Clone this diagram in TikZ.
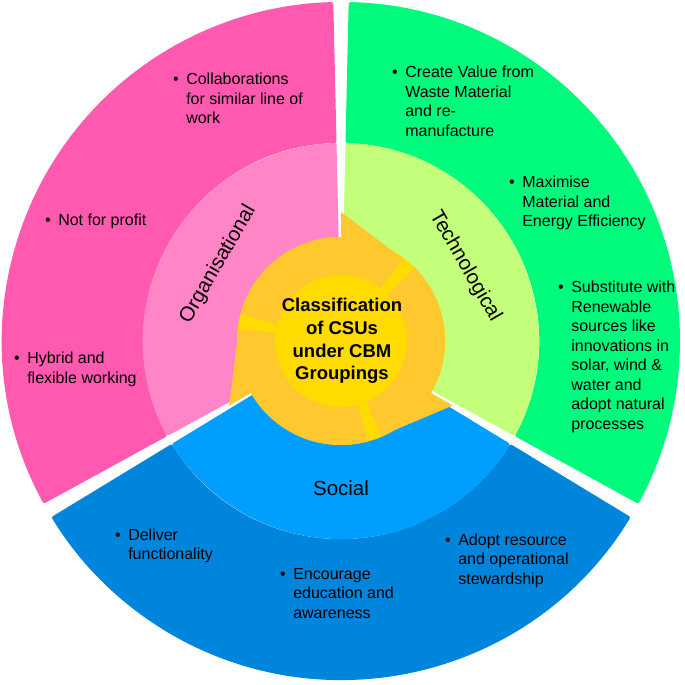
\documentclass[tikz,border=0pt]{standalone}
\usepackage{fontspec}
\setmainfont{Liberation Sans}
\usepackage{tikz}
\definecolor{pinkdark}{HTML}{FF5AAF}
\definecolor{pinklight}{HTML}{FF85C6}
\definecolor{greendark}{HTML}{00FA7C}
\definecolor{greenlight}{HTML}{C3FF7B}
\definecolor{bluedark}{HTML}{0085DC}
\definecolor{bluelight}{HTML}{009EFF}
\definecolor{cyclefill}{HTML}{FFDB00}
\definecolor{arrowfill}{HTML}{FFC82F}
\newcommand{\bitem}[1]{\begin{tabular}[t]{@{}l@{\hspace{7.5pt}}l@{}}\textbullet & \begin{tabular}[t]{@{}l@{}}#1\end{tabular}\end{tabular}}

\begin{document}
\begin{tikzpicture}[x=1pt, y=1pt, rounded corners=2pt,
    point/.style={anchor=base west, inner sep=0pt, font=\fontsize{16}{19.5}\selectfont},
    group/.style={inner sep=0pt, font=\fontsize{20.5}{24}\selectfont}]
            \useasboundingbox (-341,-344) rectangle (344,341);
            % outer sectors
            \fill[pinkdark] (91.3:198) arc[start angle=91.3, end angle=208.7, radius=198] -- (208.7:339) arc[start angle=208.7, end angle=91.3, radius=339] -- cycle;
            \fill[greendark] (-28.7:198) arc[start angle=-28.7, end angle=88.7, radius=198] -- (88.7:339) arc[start angle=88.7, end angle=-28.7, radius=339] -- cycle;
            \fill[bluedark] (211.3:198) arc[start angle=211.3, end angle=328.7, radius=198] -- (328.7:339) arc[start angle=328.7, end angle=211.3, radius=339] -- cycle;
            % inner sectors
            \fill[pinklight] (91.3:100) arc[start angle=91.3, end angle=208.7, radius=100] -- (208.7:198) arc[start angle=208.7, end angle=91.3, radius=198] -- cycle;
            \fill[greenlight] (-28.7:100) arc[start angle=-28.7, end angle=88.7, radius=100] -- (88.7:198) arc[start angle=88.7, end angle=-28.7, radius=198] -- cycle;
            \fill[bluelight] (211.3:100) arc[start angle=211.3, end angle=328.7, radius=100] -- (328.7:198) arc[start angle=328.7, end angle=211.3, radius=198] -- cycle;
            % cycle in the middle
            \fill[cyclefill] (0,0) circle[radius=104];
            \begin{scope}[sharp corners, arrowfill]
              \fill (90:66) arc[start angle=90, end angle=165, radius=66] -- (165:104) arc[start angle=165, end angle=90, radius=104] -- cycle;
              \fill (90:62) -- (90:129) -- (53:103) -- (53:66) arc[start angle=53, end angle=90, radius=66] -- cycle;
              \fill (210:66) arc[start angle=210, end angle=285, radius=66] -- (285:104) arc[start angle=285, end angle=210, radius=104] -- cycle;
              \fill (210:62) -- (210:129) -- (173:103) -- (173:66) arc[start angle=173, end angle=210, radius=66] -- cycle;
              \fill (-30:66) arc[start angle=-30, end angle=45, radius=66] -- (45:104) arc[start angle=45, end angle=-30, radius=104] -- cycle;
              \fill (-30:62) -- (-30:129) -- (-67:103) -- (-67:66) arc[start angle=-67, end angle=-30, radius=66] -- cycle;
            \end{scope}
            \node[align=center, inner sep=0pt, font=\bfseries\fontsize{18.5}{22.8}\selectfont] (title) at (1,0) {Classification\\of CSUs\\under CBM\\Groupings};
            % group labels
            \node[group, rotate=60] (org) at (148:145) {Organisational};
            \node[group, rotate=-60] (tech) at (31:145) {Technological};
            \node[group] (soc) at (270:147) {Social};
            % organisational points
            \node[point] (collab) at (-168,256) {\bitem{Collaborations\\for similar line of\\work}};
            \node[point] (profit) at (-296,115) {\bitem{Not for profit}};
            \node[point] (hybrid) at (-327,-23) {\bitem{Hybrid and\\flexible working}};
            % technological points
            \node[point] (waste) at (51,263) {\bitem{Create Value from\\Waste Material\\and re-\\manufacture}};
            \node[point] (effic) at (168,153) {\bitem{Maximise\\Material and\\Energy Efficiency}};
            \node[point] (renew) at (217,48) {\bitem{Substitute with\\Renewable\\sources like\\innovations in\\solar, wind \&\\water and\\adopt natural\\processes}};
            % social points
            \node[point] (deliver) at (-226,-199) {\bitem{Deliver\\functionality}};
            \node[point] (educ) at (-61,-238) {\bitem{Encourage\\education and\\awareness}};
            \node[point] (steward) at (104,-204) {\bitem{Adopt resource\\and operational\\stewardship}};
          \end{tikzpicture}
\end{document}
